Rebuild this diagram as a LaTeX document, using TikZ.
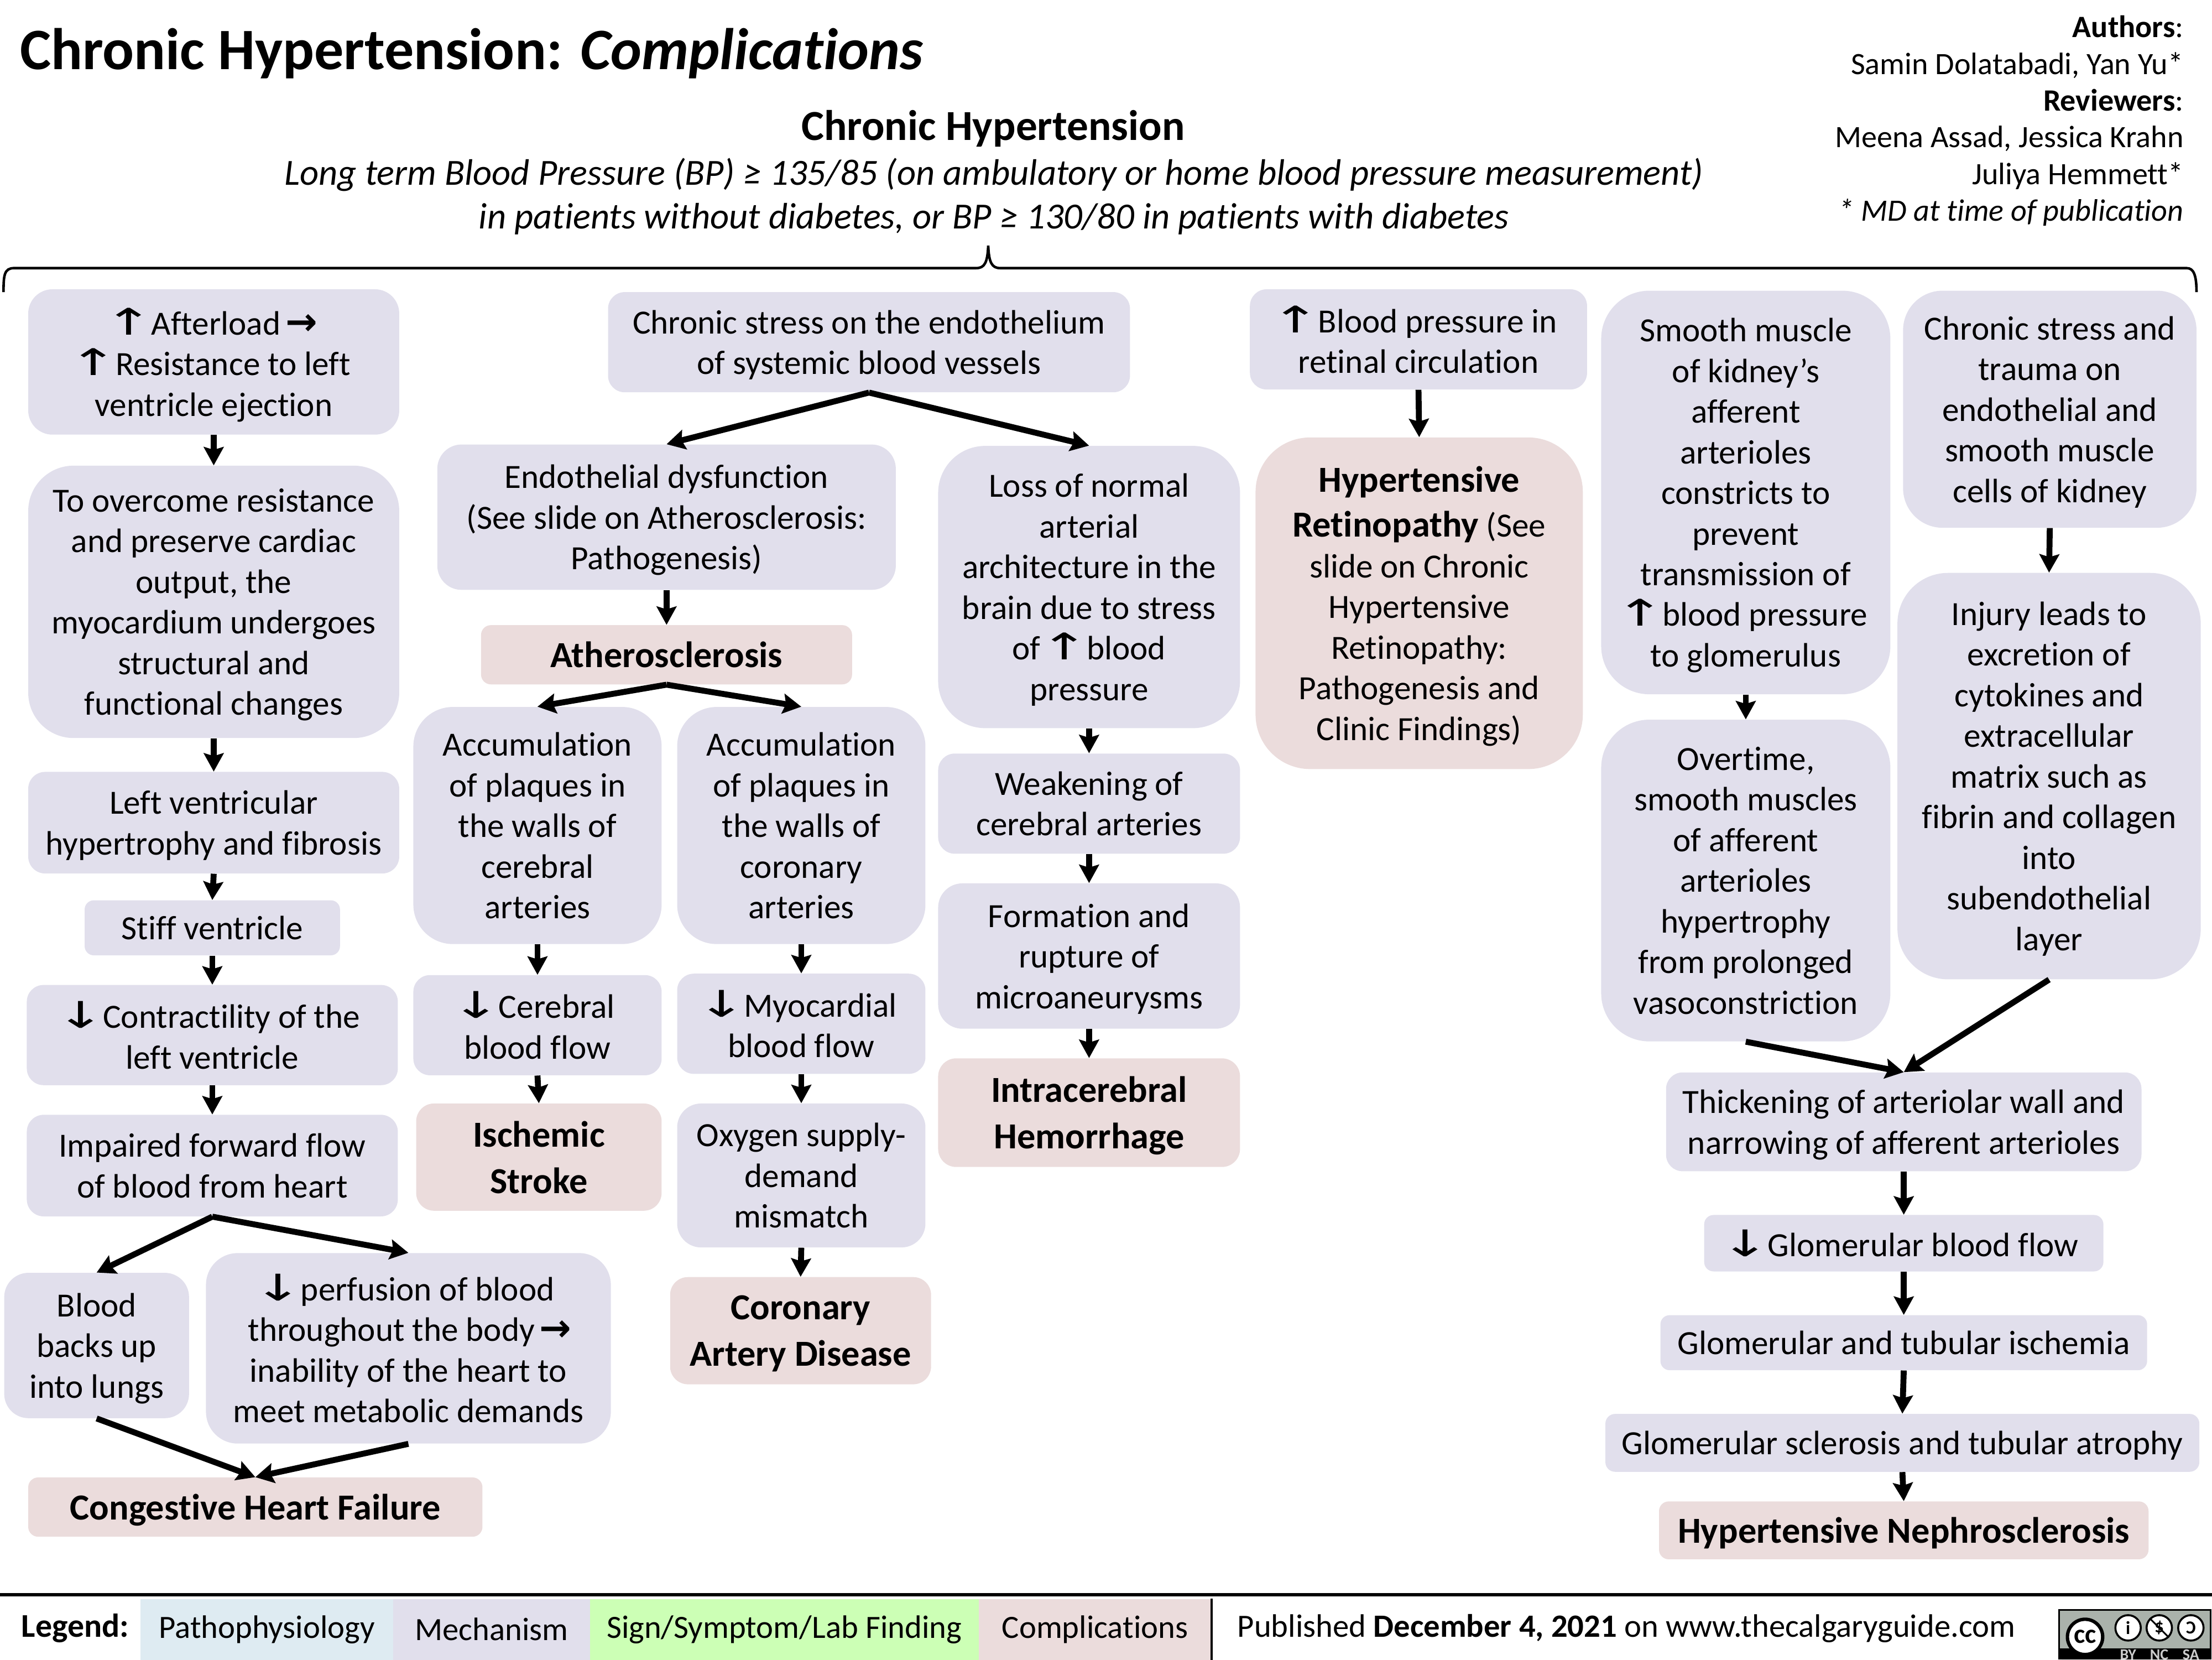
\documentclass[tikz,border=0pt]{standalone}
\usepackage{fontspec}
\setmainfont[Ligatures=NoCommon]{Carlito}
\newfontfamily\symfont[FakeStretch=1.6]{DejaVu Sans}
\newfontfamily\arrfont{DejaVu Sans}
\usetikzlibrary{arrows.meta}
\definecolor{mechcol}{HTML}{E1DFEC}
\definecolor{compcol}{HTML}{EBDCDC}
\definecolor{pathcol}{HTML}{DEEBF2}
\definecolor{signcol}{HTML}{CCFFB5}
\definecolor{cclogo}{HTML}{AAB2AB}
\newcommand{\uarr}{{\kern-6pt\symfont\fontsize{26}{26}\selectfont ↑\kern-7pt}}
\newcommand{\darr}{{\kern-6pt\symfont\fontsize{26}{26}\selectfont ↓\kern-7pt}}
\newcommand{\rarr}{{\kern-2pt\arrfont\bfseries\fontsize{27}{27}\selectfont →\kern-2pt}}
\newcommand{\hdr}[1]{{\fontsize{26}{33}\selectfont\bfseries #1}}
\tikzset{
 basebox/.style 2 args={inner sep=0, align=center, minimum width=#1, minimum height=#2,
  rounded corners={min(#1,#2)/6}, font=\fontsize{24}{28.8}\selectfont, text depth=0pt},
 mech/.style 2 args={basebox={#1}{#2}, fill=mechcol},
 comp/.style 2 args={basebox={#1}{#2}, fill=compcol},
 legend/.style={inner sep=0, minimum height=43, anchor=north west, font=\fontsize{23}{27}\selectfont},
 arr/.style={line width=4.2, -{Stealth[length=13,width=14,inset=2]}},
 bigtext/.style={font=\fontsize{26}{33}\selectfont\bfseries, text depth=-2.5pt},
 bigline/.style={font=\fontsize{26}{33}\selectfont\bfseries},
}
\begin{document}
\begin{tikzpicture}[x=1pt,y=-1pt]
\useasboundingbox (0,0) rectangle (1568,1176);
\node[anchor=west, inner sep=0, font=\fontsize{41.6}{44}\selectfont\bfseries] (title) at (14,38) {Chronic Hypertension: \textit{Complications}};
\node[inner sep=0, font=\fontsize{30.3}{34}\selectfont\bfseries] (head) at (704,91) {Chronic Hypertension};
\node[inner sep=0, align=center, font=\fontsize{26.1}{31}\selectfont\itshape] (defn) at (704.5,139) {Long term Blood Pressure (BP) ≥ 135/85 (on ambulatory or home blood pressure measurement)\\in patients without diabetes, or BP ≥ 130/80 in patients with diabetes};
\node[anchor=north east, inner sep=0, align=right, font=\fontsize{22}{26}\selectfont] (authors) at (1548,11) {\textbf{Authors}:\\Samin Dolatabadi, Yan Yu*\\\textbf{Reviewers}:\\Meena Assad, Jessica Krahn\\Juliya Hemmett*\\\textit{* MD at time of publication}};
\draw[line width=1.8] (2.5,207) .. controls (2.5,195) and (3,190) .. (10,190) -- (692,190) .. controls (698,190) and (700,186) .. (700.5,174) .. controls (701,186) and (703,190) .. (709,190) -- (1550,190) .. controls (1555,190) and (1557,195) .. (1557,207);
% left column
\node[mech={263}{103}] (afterload) at (151.5,256.5) {\uarr{} Afterload \rarr\\\uarr{} Resistance to left\\ventricle ejection};
\node[mech={263}{193}] (overcome) at (151.5,426.5) {To overcome resistance\\and preserve cardiac\\output, the\\myocardium undergoes\\structural and\\functional changes};
\node[mech={263}{72}] (lvh) at (151.5,583) {Left ventricular\\hypertrophy and fibrosis};
\node[mech={181}{39}] (stiff) at (150.5,657.5) {Stiff ventricle};
\node[mech={263}{71}] (contract) at (150.5,733.5) {\darr{} Contractility of the\\left ventricle};
\node[mech={263}{72}] (impaired) at (150.5,826) {Impaired forward flow\\of blood from heart};
\node[mech={131}{103}] (backs) at (68.5,953.5) {Blood\\backs up\\into lungs};
\node[mech={287}{135}] (perfusion) at (289.5,955.5) {\darr{} perfusion of blood\\throughout the body \rarr\\inability of the heart to\\meet metabolic demands};
\node[comp={322}{42}, bigline] (chf) at (181,1068) {Congestive Heart Failure};
% vessels
\node[mech={370}{71}] (stress) at (616,242.5) {Chronic stress on the endothelium\\of systemic blood vessels};
\node[mech={325}{103}] (dysfunc) at (472.5,366.5) {Endothelial dysfunction\\(See slide on Atherosclerosis:\\Pathogenesis)};
\node[comp={263}{42}, bigline] (athero) at (472.5,464) {Atherosclerosis};
\node[mech={176}{168}] (plaqcer) at (381,585) {Accumulation\\of plaques in\\the walls of\\cerebral\\arteries};
\node[mech={176}{71}] (cerflow) at (381,726.5) {\darr{} Cerebral\\blood flow};
\node[comp={174}{76}, bigtext] (stroke) at (382,820) {Ischemic\\Stroke};
\node[mech={176}{168}] (plaqcor) at (568,585) {Accumulation\\of plaques in\\the walls of\\coronary\\arteries};
\node[mech={176}{71}] (myoflow) at (568,725.5) {\darr{} Myocardial\\blood flow};
\node[mech={176}{102}] (supply) at (568,833) {Oxygen supply-\\demand\\mismatch};
\node[comp={185}{76}, bigtext] (cad) at (567.5,943) {Coronary\\Artery Disease};
\node[mech={214}{200}] (loss) at (772,416) {Loss of normal\\arterial\\architecture in the\\brain due to stress\\of \uarr{} blood\\pressure};
\node[mech={214}{71}] (weak) at (772,569.5) {Weakening of\\cerebral arteries};
\node[mech={214}{103}] (rupture) at (772,677.5) {Formation and\\rupture of\\microaneurysms};
\node[comp={214}{77}, bigtext] (bleed) at (772,788.5) {Intracerebral\\Hemorrhage};
% retina
\node[mech={239}{71}] (retinal) at (1005.5,240.5) {\uarr{} Blood pressure in\\retinal circulation};
\node[comp={232}{235}] (retino) at (1006,427.5) {\hdr{Hypertensive}\\[3pt]\hdr{Retinopathy} (See\\slide on Chronic\\Hypertensive\\Retinopathy:\\Pathogenesis and\\Clinic Findings)};
% kidney
\node[mech={205}{286}] (smooth) at (1237.5,349) {Smooth muscle\\of kidney’s\\afferent\\arterioles\\constricts to\\prevent\\transmission of\\\uarr{} blood pressure\\to glomerulus};
\node[mech={205}{228}] (overtime) at (1237.5,624) {Overtime,\\smooth muscles\\of afferent\\arterioles\\hypertrophy\\from prolonged\\vasoconstriction};
\node[mech={208}{168}] (trauma) at (1453,290) {Chronic stress and\\trauma on\\endothelial and\\smooth muscle\\cells of kidney};
\node[mech={215}{288}] (injury) at (1452.5,550) {Injury leads to\\excretion of\\cytokines and\\extracellular\\matrix such as\\fibrin and collagen\\into\\subendothelial\\layer};
\node[mech={337}{70}] (thick) at (1349.5,795) {Thickening of arteriolar wall and\\narrowing of afferent arterioles};
\node[mech={283}{40}] (gflow) at (1349.5,881) {\darr{} Glomerular blood flow};
\node[mech={345}{39}] (ischemia) at (1349.5,951.5) {Glomerular and tubular ischemia};
\node[mech={421}{41}] (sclerosis) at (1348.5,1022.5) {Glomerular sclerosis and tubular atrophy};
\node[comp={347}{41}, bigline] (nephro) at (1349.5,1084.5) {Hypertensive Nephrosclerosis};
\foreach \a/\b in {afterload/overcome,overcome/lvh,lvh/stiff,stiff/contract,contract/impaired,impaired/backs,impaired/perfusion,backs/chf,perfusion/chf,stress/dysfunc,stress/loss,dysfunc/athero,athero/plaqcer,athero/plaqcor,plaqcer/cerflow,cerflow/stroke,plaqcor/myoflow,myoflow/supply,supply/cad,loss/weak,weak/rupture,rupture/bleed,retinal/retino,smooth/overtime,trauma/injury,overtime/thick,injury/thick,thick/gflow,gflow/ischemia,ischemia/sclerosis,sclerosis/nephro}
 \draw[arr] (\a.south) -- (\b.north);
% legend
\draw[line width=2.2] (0,1130) -- (1568,1130);
\node[anchor=west, inner sep=0, font=\fontsize{23.5}{26}\selectfont\bfseries] (legendlab) at (15,1154) {Legend:};
\node[legend, fill=pathcol, minimum width=179] (legpath) at (99.5,1133) {Pathophysiology};
\node[legend, fill=mechcol, minimum width=139.5] (legmech) at (278.5,1133) {Mechanism};
\node[legend, fill=signcol, minimum width=275.5] (legsign) at (418,1133) {Sign/Symptom/Lab Finding};
\node[legend, fill=compcol, minimum width=165] (legcomp) at (693.5,1133) {Complications};
\draw[line width=1.8] (legcomp.north east) -- (legcomp.south east);
\node[anchor=west, inner sep=0, font=\fontsize{23}{27}\selectfont] (pub) at (877,1154) {Published \textbf{December 4, 2021} on www.thecalgaryguide.com};
% licence badge
\fill[cclogo, rounded corners=2] (1459.5,1141) rectangle (1567,1176);
\fill[black] (1459.5,1168) rectangle (1567,1176);
\draw[line width=1.2] (1459.5,1176) -- (1459.5,1141) -- (1567,1141) -- (1567,1176);
\node[circle, fill=white, draw=black, line width=2.4, minimum size=25, inner sep=0, font=\fontsize{19}{19}\selectfont\bfseries] (ccmark) at (1478,1160) {cc};
\foreach \n/\cx/\s/\t in {by/1508.5/i/BY,nc/1530.6/\$/NC,sa/1553/{\reflectbox{C}}/SA} {
 \node[circle, fill=white, draw=black, line width=1.4, minimum size=18, inner sep=0, font=\fontsize{13}{13}\selectfont\bfseries] (\n mark) at (\cx,1153.6) {\s};
 \node[inner sep=0, text=white!80!black, font=\fontsize{11}{11}\selectfont\bfseries] (\n text) at (\cx,1172.5) {\t};
}
\draw[line width=1.2] (ncmark.north west) -- (ncmark.south east);
\end{tikzpicture}
\end{document}
